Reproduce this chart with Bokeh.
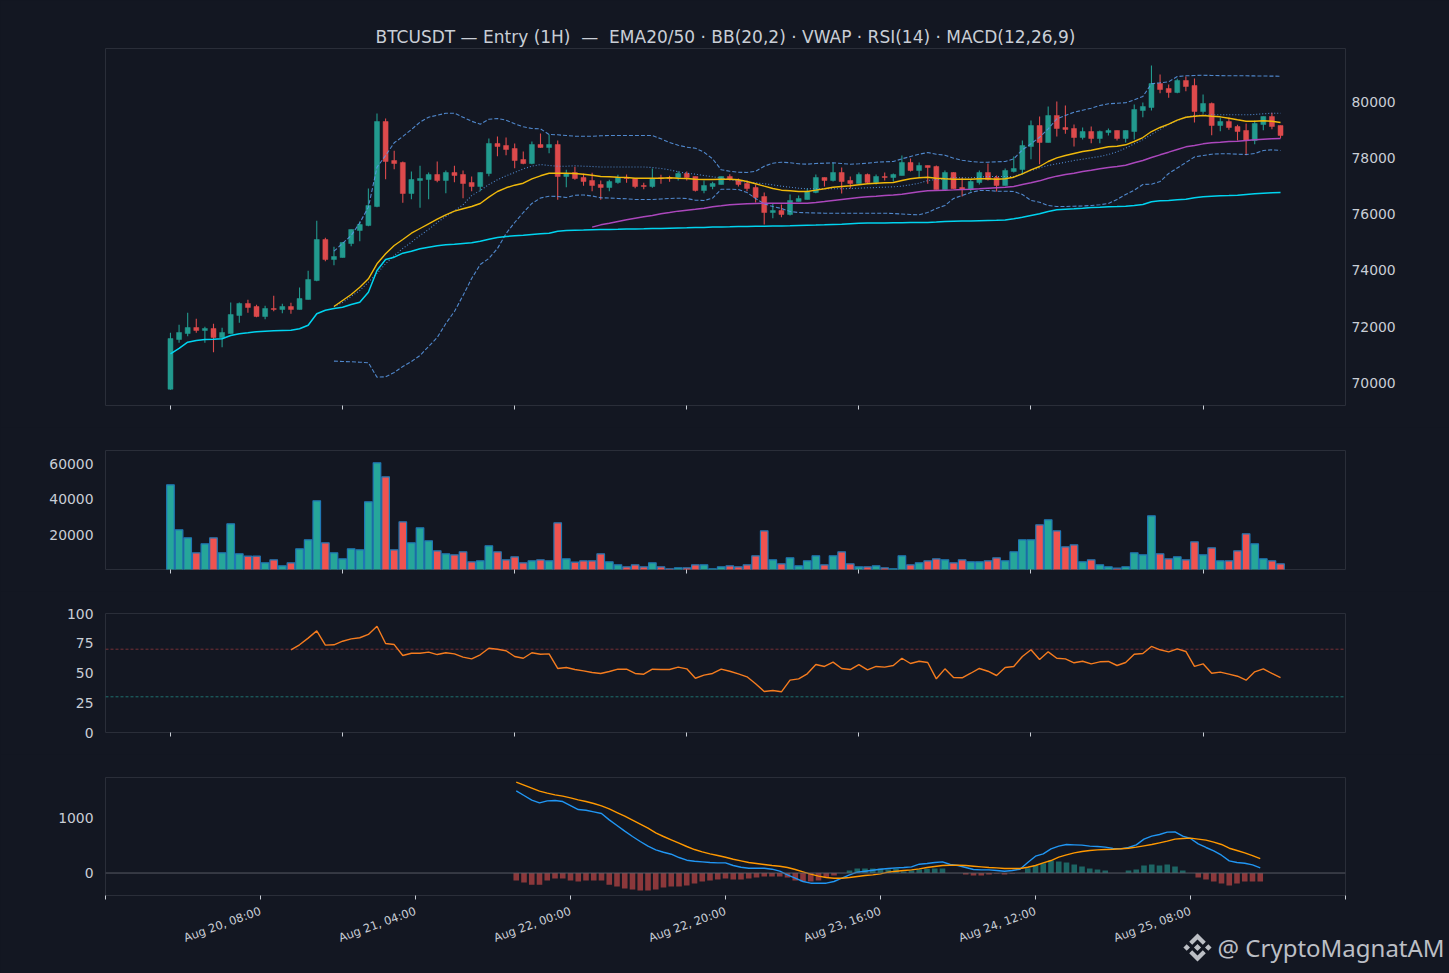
from bokeh.plotting import figure
from bokeh.layouts import column
from bokeh.embed import file_html
from bokeh.resources import INLINE
from bokeh.models import (ColumnDataSource, FixedTicker, Range1d, Span)
from bokeh.core.properties import value
import numpy as np

# ---------- data ----------
opens = [69780,71546,71759,71972,71866,71937,71607,71759,72399,72825,
72718,72363,72647,72612,72718,72612,72967,73642,75098,74388,
74459,74956,75418,75595,76270,79290,77904,77833,76732,77194,
77229,77407,77194,77478,77407,77123,76981,77442,78508,78437,
78331,77940,77798,78473,78366,78473,77336,77478,77300,77194,
77052,76945,77123,77300,77265,77016,76981,77290,77290,77300,
77442,77336,76839,76981,77052,77336,77194,77087,76945,76626,
76057,76128,75986,76448,76519,76768,77300,77194,77478,77194,
77087,77407,77123,77336,77300,77371,77833,77549,77727,77691,
76874,77478,76945,76874,77123,77478,77300,77016,77514,77585,
78402,79148,78544,79503,79077,79041,78721,78934,78686,78899,
78970,78686,78934,79680,79787,80639,80462,80320,80746,80568,
79645,79929,79148,79290,79112,78970,78615,79183,79467,79148]
closes = [71582,71795,71972,71866,71937,71617,71795,72434,72825,72683,
72363,72647,72612,72718,72612,73002,73677,75098,74388,74494,
74992,75454,75631,76306,79290,77869,77798,76732,77229,77265,
77407,77194,77478,77371,77087,76981,77478,78508,78402,78295,
77904,77798,78473,78366,78473,77336,77442,77265,77158,77016,
76945,77158,77300,77265,76981,76981,77265,77265,77265,77442,
77300,76839,77016,77087,77336,77229,77052,76910,76590,76057,
76128,75986,76484,76555,76803,77300,77194,77478,77158,77087,
77407,77123,77336,77300,77407,77833,77549,77727,77656,76874,
77478,76899,76874,77158,77478,77229,77016,77549,77620,78437,
79148,78544,79503,79041,79006,78721,78934,78686,78934,78970,
78686,78970,79716,79822,80639,80426,80320,80746,80533,79645,
79929,79148,79290,79077,78934,78615,79218,79467,79112,78792]
highs = [71784,72068,72495,72282,71997,72104,71962,72861,72861,72956,
72779,72743,73098,72814,72850,73393,73986,75762,75158,74839,
74992,75454,75738,76910,79574,79396,78249,77869,77514,77716,
77478,77869,77549,77716,77549,77336,77478,78686,78757,78721,
78508,78224,78579,78863,78828,78615,77574,77680,77432,77467,
77194,77219,77396,77407,77265,77112,77620,77396,77361,77524,
77514,77336,77194,77148,77336,77418,77265,77194,77052,76768,
76366,76341,76697,76661,76910,77407,77300,77823,77656,77336,
77478,77443,77407,77478,77443,78082,77975,77833,77727,77727,
77549,77489,77300,77229,77549,77798,77371,77620,78046,78615,
79325,79467,79822,80000,79858,79183,79077,79112,78970,79041,
78970,78970,79893,79964,81279,80959,80604,80806,80888,80817,
80249,79964,79432,79432,79172,79218,79325,79467,79599,79148]
lows = [69760,71429,71663,71784,71429,71095,71273,71759,72139,72495,
72339,72267,72551,72480,72459,72612,72967,73617,74328,74185,
74459,74860,75038,75571,76246,77240,77595,76402,76530,76224,
76530,77133,76743,77133,76565,76814,76814,77347,78057,78093,
77631,77773,77773,78356,78163,76509,76956,77219,77006,76814,
76509,76814,77077,77112,76920,76885,76935,77077,77148,77194,
77194,76803,76743,76885,77052,77194,76981,76814,76412,75631,
75855,75890,75951,76448,76519,76743,76981,77158,76732,76910,
77077,77077,77052,77194,77158,77371,77514,77290,77077,76874,
76874,76899,76626,76803,77052,77194,76803,77016,77478,77407,
77950,77773,78544,78757,78853,78402,78650,78519,78519,78792,
78615,78544,78650,79442,79680,80295,80131,80295,80366,79254,
79563,78803,78945,78995,78615,78093,78483,78981,79016,78696]
volumes = [48265,22912,18404,9953,15024,18404,9953,26292,9390,8075,
8075,4319,6010,2629,4319,12207,17278,39250,15587,9953,
6573,12207,11644,38687,60659,52772,11644,27419,15587,24038,
16714,11080,9390,8827,10517,4883,5446,13897,10517,6010,
7700,4319,5446,6010,5446,26855,6573,4695,5446,5446,
9390,4883,3193,2066,3193,2066,4319,2066,939,1502,
1502,3193,3193,939,2066,2629,2066,3193,8263,22348,
6010,3756,7136,2629,5446,8263,3193,8263,10517,3756,
2066,2066,2629,1502,939,8263,3193,4319,5446,6573,
6010,4319,6010,4883,4883,5446,7136,5446,10517,17278,
17278,25729,28546,22348,13334,14461,4883,6010,3193,2066,
1315,2066,9953,8827,30799,9390,6573,7700,6010,16151,
8827,12770,5446,5446,11080,20658,15024,6573,5446,3756]
vwap = [71038,71227,71450,71511,71546,71557,71571,71688,71749,71784,
71820,71841,71855,71866,71877,71926,72054,72459,72587,72647,
72693,72789,72871,73226,73997,74388,74470,74612,74683,74768,
74825,74874,74910,74931,74956,74981,75038,75109,75169,75205,
75230,75251,75276,75301,75322,75393,75418,75429,75436,75446,
75453,75457,75460,75467,75474,75478,75485,75492,75499,75506,
75513,75521,75528,75538,75545,75552,75560,75560,75567,75571,
75578,75581,75588,75596,75603,75610,75620,75631,75642,75659,
75674,75681,75684,75688,75691,75695,75699,75702,75706,75720,
75738,75745,75752,75759,75766,75773,75780,75794,75833,75890,
75951,76011,76093,76153,76174,76189,76210,76235,76246,76260,
76270,76281,76306,76341,76437,76473,76484,76509,76530,76580,
76615,76636,76651,76661,76672,76697,76722,76743,76757,76768]
ema20 = [72718,72932,73145,73404,73702,74235,74590,74885,75098,75322,75489,
75656,75819,75976,76104,76189,76270,76377,76601,76803,76935,
77027,77098,77254,77361,77453,77453,77453,77442,77418,77382,
77336,77325,77311,77300,77275,77275,77275,77275,77290,77275,
77265,77240,77229,77229,77240,77240,77219,77158,77077,76992,
76910,76850,76828,76803,76803,76850,76899,76956,76981,77006,
77041,77077,77098,77112,77123,77194,77254,77290,77311,77275,
77254,77240,77240,77240,77254,77254,77240,77254,77311,77432,
77574,77691,77869,78000,78082,78153,78224,78270,78331,78391,
78412,78462,78579,78721,78934,79077,79194,79336,79442,79478,
79503,79478,79456,79407,79350,79300,79300,79314,79300,79254]
ema50 = [75535,75620,75677,75738,75798,75855,75904,75951,76011,76057,76104,
76139,76174,76210,76260,76295,76331,76349,76366,76377,76388,
76388,76388,76388,76388,76388,76413,76448,76484,76519,76555,
76590,76615,76636,76661,76679,76707,76750,76792,76828,76839,
76850,76860,76874,76885,76899,76917,76935,76952,76981,77052,
77112,77183,77275,77347,77407,77453,77514,77560,77609,77656,
77691,77737,77823,77904,78011,78107,78199,78295,78391,78437,
78497,78533,78554,78579,78590,78615,78640,78661,78675,78686]
bb_upper = [74682,74956,75240,75691,76245,77666,78082,78533,78757,79006,79265,
79442,79513,79584,79584,79442,79300,79194,79371,79396,79336,
79208,79101,79041,79030,78828,78817,78792,78767,78767,78767,
78781,78792,78792,78792,78792,78792,78792,78675,78544,78448,
78377,78341,78199,77965,77574,77524,77489,77478,77524,77702,
77808,77844,77823,77787,77773,77798,77808,77823,77798,77773,
77787,77808,77844,77858,77869,77965,78046,78128,78188,78128,
78093,77986,77915,77869,77844,77844,77858,77869,77965,78284,
78497,78732,79030,79385,79503,79620,79691,79762,79858,79918,
79940,79954,80060,80178,80629,80664,80700,80888,80913,80924,
80934,80924,80920,80916,80913,80913,80909,80906,80902,80899]
bb_mid = [72718,72861,73074,73288,73582,73891,74235,74530,74779,75003,75240,
75454,75702,75915,76118,76331,76661,76839,77052,77219,77361,
77478,77609,77702,77762,77727,77702,77702,77716,77702,77691,
77673,77673,77673,77673,77673,77673,77656,77620,77574,77503,
77453,77418,77371,77325,77275,77229,77169,77133,77112,77077,
77041,76992,76956,76920,76899,76899,76899,76899,76899,76910,
76920,76935,76945,76956,76970,76992,77041,77098,77194,77229,
77254,77290,77290,77290,77311,77336,77336,77336,77336,77453,
77549,77645,77727,77787,77844,77904,77950,78000,78046,78117,
78213,78341,78497,78640,78828,79006,79183,79325,79442,79503,
79513,79527,79527,79527,79527,79527,79538,79563,79584,79584]
bb_lower = [70776,70765,70754,70740,70719,70207,70221,70374,70587,70765,70978,
71298,71617,72115,72541,73109,73713,74210,74423,74779,75311,
75702,76057,76377,76572,76636,76626,76590,76672,76679,76644,
76579,76572,76555,76544,76519,76519,76519,76537,76555,76565,
76555,76494,76484,76565,76885,76885,76874,76768,76555,76366,
76270,76199,76093,76057,76047,76040,76032,76032,76032,76032,
76032,76032,76032,76032,76022,76004,75986,75975,76057,76199,
76306,76555,76661,76768,76839,76839,76814,76814,76803,76697,
76484,76423,76306,76270,76270,76281,76288,76306,76331,76377,
76519,76697,76849,77052,77063,77158,77442,77638,77833,78029,
78082,78128,78142,78142,78128,78117,78153,78259,78284,78259]
rsi = [69.5,73.7,79.3,85.4,73.4,73.7,76.7,78.7,79.6,82.4,89.3,
74.8,73.9,64.7,66.6,66.6,67.5,65.5,67.0,66.1,63.3,
61.9,65.3,70.8,70.0,68.7,63.9,62.4,67.0,65.8,66.1,
53.8,54.6,52.9,51.8,50.4,49.6,51.3,53.2,53.2,49.6,
49.0,53.2,52.9,52.9,54.9,53.5,45.6,48.2,49.6,53.2,
51.5,49.3,46.8,40.9,34.5,35.3,34.2,44.0,45.1,49.3,
57.1,55.5,59.1,53.8,52.9,57.1,52.7,55.5,54.9,56.3,
62.4,58.0,59.9,58.8,45.1,53.5,46.2,46.0,49.8,53.8,
51.5,47.9,54.6,55.5,63.9,69.5,61.3,67.8,62.4,61.9,
58.6,59.9,57.7,59.4,59.7,56.3,58.8,65.8,66.4,72.3,
69.5,67.8,70.3,68.1,55.5,57.7,49.8,50.7,49.0,47.3,
44.0,51.0,53.5,49.6,46.2]
macd_line = [1481,1397,1312,1264,1300,1306,1288,1216,1144,1132,1102,1072,958,856,754,658,568,
484,417,375,339,279,231,213,201,189,183,183,135,105,87,87,87,69,33,-33,-93,-153,
-183,-183,-183,-153,-93,-33,15,33,51,69,81,93,99,111,159,171,189,201,153,135,99,
63,57,57,45,33,45,69,189,303,345,436,484,514,508,502,484,478,466,442,436,460,
508,610,664,694,736,742,664,622,526,460,400,321,219,189,177,147,93]
macd_signal = [1637,1583,1529,1475,1439,1409,1385,1355,1318,1288,1252,1210,1156,1090,1024,952,880,
808,724,658,598,538,478,423,381,345,315,285,249,219,189,171,153,135,123,99,63,21,
-21,-57,-81,-93,-93,-81,-63,-45,-33,-15,15,33,45,57,75,99,117,135,141,141,135,
123,111,99,93,81,81,81,105,135,183,225,285,327,363,387,405,417,423,429,436,447,
466,490,514,544,574,610,622,628,610,592,556,514,447,405,363,315,261]
macd_hist = [-135,-171,-210,-210,-135,-99,-99,-135,-153,-135,-135,-135,-210,-243,-279,-297,-315,
-315,-297,-261,-243,-243,-225,-189,-153,-135,-117,-99,-117,-117,-99,-81,-63,-63,-63,-81,-135,-153,
-153,-135,-81,-45,0,45,81,81,81,81,63,81,27,45,63,75,81,81,0,0,-27,
-45,-45,-27,-9,-27,-9,0,87,135,177,225,207,189,153,117,81,63,45,0,0,45,
63,135,153,135,153,117,45,0,-81,-117,-153,-189,-225,-189,-153,-153,-153]
ema20_start, ema50_start, bb_start, rsi_start, macd_start = 19, 49, 19, 14, 33
tick_labels = ["", "Aug 20, 08:00", "Aug 21, 04:00", "Aug 22, 00:00", "Aug 22, 20:00",
               "Aug 23, 16:00", "Aug 24, 12:00", "Aug 25, 08:00", ""]
price_ticks = [70000, 72000, 74000, 76000, 78000, 80000]
vol_ticks = [20000, 40000, 60000]
rsi_ticks = [0, 25, 50, 75, 100]
macd_ticks = [0, 1000]

# ---------- style ----------
BG = "#131722"; EDGE = "#2a2e39"; TXT = "#c9ced6"
UP = "#26a69a"; DOWN = "#ef5350"
UP_C = "#229a8e"; DOWN_C = "#dd4a4c"
FONT = "DejaVu Sans"
W = 1449
x_shared = Range1d(-7.55, 136.55)
x_macd = Range1d(-20, 140)
shared_ticks = list(range(0, 121, 20))
macd_x_ticks = list(range(-20, 141, 20))

def mk(h, top, bottom, y_range, yticks, side="left", x_range=x_shared, xticks=shared_ticks):
    p = figure(width=W, height=h, x_range=x_range, y_range=y_range,
               output_backend="svg", toolbar_location=None,
               y_axis_location=side, background_fill_color=BG, border_fill_color=BG,
               min_border_left=105, min_border_right=104, min_border_top=top, min_border_bottom=bottom)
    p.outline_line_color = EDGE
    p.grid.visible = False
    p.yaxis.ticker = FixedTicker(ticks=yticks)
    p.yaxis.axis_line_color = None
    p.yaxis.major_tick_line_color = None
    p.yaxis.minor_tick_line_color = None
    p.yaxis.major_label_text_color = TXT
    p.yaxis.major_label_text_font = FONT
    p.yaxis.major_label_text_font_size = "13.9px"
    p.yaxis.major_tick_out = 0
    p.yaxis.major_tick_in = 0
    p.yaxis.major_label_standoff = 6 if side == "right" else 12
    p.xaxis.ticker = FixedTicker(ticks=xticks)
    p.xaxis.axis_line_color = None
    p.xaxis.minor_tick_line_color = None
    p.xaxis.major_tick_line_color = TXT
    p.xaxis.major_tick_out = 4
    p.xaxis.major_tick_in = 0
    p.xaxis.major_label_text_font_size = "0px"
    p.xaxis.major_label_text_color = None
    return p

n = len(closes)
idx = np.arange(n)
up = [c >= o for o, c in zip(opens, closes)]
src = ColumnDataSource(dict(
    x=idx, o=opens, h=highs, l=lows, c=closes, v=volumes,
    top=[max(a, b) for a, b in zip(opens, closes)],
    bot=[min(a, b) for a, b in zip(opens, closes)],
    color=[UP if u else DOWN for u in up],
    ccolor=[UP_C if u else DOWN_C for u in up]))

# ---------- price ----------
p1 = mk(427, 48, 22, Range1d(69201, 81883), price_ticks, side="right")
p1.title.text = "BTCUSDT \u2014 Entry (1H) \u00a0\u2014 \u00a0EMA20/50 \u00b7 BB(20,2) \u00b7 VWAP \u00b7 RSI(14) \u00b7 MACD(12,26,9)"
p1.title.align = "center"
p1.title.text_color = TXT
p1.title.text_font = FONT
p1.title.text_font_size = "17px"
p1.title.text_font_style = "normal"
p1.title.standoff = 3
p1.segment("x", "l", "x", "h", source=src, color="ccolor", line_width=1.1)
p1.vbar("x", 0.58, "bot", "top", source=src, fill_color="ccolor", line_color="ccolor", line_width=0.5)
BB = "#5b9bea"
p1.line(np.arange(bb_start, n), bb_upper, color=BB, line_width=1.1, line_dash="4 2", line_alpha=0.85)
p1.line(np.arange(bb_start, n), bb_lower, color=BB, line_width=1.1, line_dash="4 2", line_alpha=0.85)
p1.line(np.arange(bb_start, n), bb_mid, color=BB, line_width=1.1, line_dash="1 2", line_alpha=0.85)
p1.line(np.arange(ema50_start, n), ema50, color="#ab47bc", line_width=1.4)
p1.line(np.arange(ema20_start, n), ema20, color="#f0b90b", line_width=1.4)
p1.line(idx, vwap, color="#00d4f0", line_width=1.5)

# ---------- volume ----------
p2 = mk(164, 23, 22, Range1d(563, 67605), vol_ticks)
p2.vbar("x", 0.88, 0, "v", source=src, fill_color="color", line_color="#1f77b4", line_width=1.2)

# ---------- RSI ----------
p3 = mk(163, 22, 22, Range1d(0, 100), rsi_ticks)
p3.add_layout(Span(location=70, dimension="width", line_color=DOWN, line_alpha=0.5, line_width=0.9, line_dash="3 2"))
p3.add_layout(Span(location=30, dimension="width", line_color=UP, line_alpha=0.7, line_width=0.9, line_dash="3 2"))
p3.line(np.arange(rsi_start, n), rsi, color="#f57c1f", line_width=1.4)

# ---------- MACD ----------
p4 = mk(219, 23, 78, Range1d(-405, 1721), macd_ticks, x_range=x_macd, xticks=macd_x_ticks)
p4.xaxis.major_label_overrides = {t: s for t, s in zip(macd_x_ticks, tick_labels)}
p4.xaxis.major_label_text_color = TXT
p4.xaxis.major_label_text_font = FONT
p4.xaxis.major_label_text_font_size = "11.5px"
p4.xaxis.major_label_orientation = np.deg2rad(20)
p4.xaxis.major_label_standoff = 11
hx = np.arange(macd_start, n)
hcol = [UP if h >= 0 else DOWN for h in macd_hist]
p4.vbar(hx, 0.72, 0, macd_hist, fill_color=hcol, line_color=None, fill_alpha=0.55)
p4.add_layout(Span(location=0, dimension="width", line_color="#5f626c", line_width=0.9))
p4.line(hx, macd_line, color="#2196f3", line_width=1.4)
p4.line(hx, macd_signal, color="#ff9800", line_width=1.4)

# ---------- watermark: a small overlay figure, its own root ----------
WM = "#bcbfc5"
wm = figure(width=268, height=50, x_range=Range1d(0, 268), y_range=Range1d(50, 0),
            output_backend="svg", toolbar_location=None, x_axis_type=None, y_axis_type=None,
            min_border=0, background_fill_color=None, border_fill_color=None,
            styles={"position": "absolute", "left": "1180px", "top": "922px"})
wm.outline_line_color = None
wm.grid.visible = False
cx, cy = 17, 25
shapes = [
    [(0, 3.6), (3.6, 0), (0, -3.6), (-3.6, 0)],
    [(-10.8, 3.3), (-7.5, 0), (-10.8, -3.3), (-14.1, 0)],
    [(10.8, 3.3), (14.1, 0), (10.8, -3.3), (7.5, 0)],
    [(0, 14), (8.3, 5.7), (5.3, 2.7), (0, 8), (-5.3, 2.7), (-8.3, 5.7)],
    [(0, -14), (8.3, -5.7), (5.3, -2.7), (0, -8), (-5.3, -2.7), (-8.3, -5.7)],
]
wm.patches([[cx + a for a, _ in s] for s in shapes], [[cy + b for _, b in s] for s in shapes],
           fill_color=WM, line_color=None)
wm.text(x=[37], y=[25], text=["@ CryptoMagnatAM"], text_font=value("Noto Sans"),
        text_font_size="24px", text_baseline="middle", text_color=WM)

page = column(p1, p2, p3, p4, spacing=0,
              styles={"position": "absolute", "left": "0px", "top": "0px", "background-color": BG})
open("out.html", "w").write(file_html([page, wm], INLINE))
